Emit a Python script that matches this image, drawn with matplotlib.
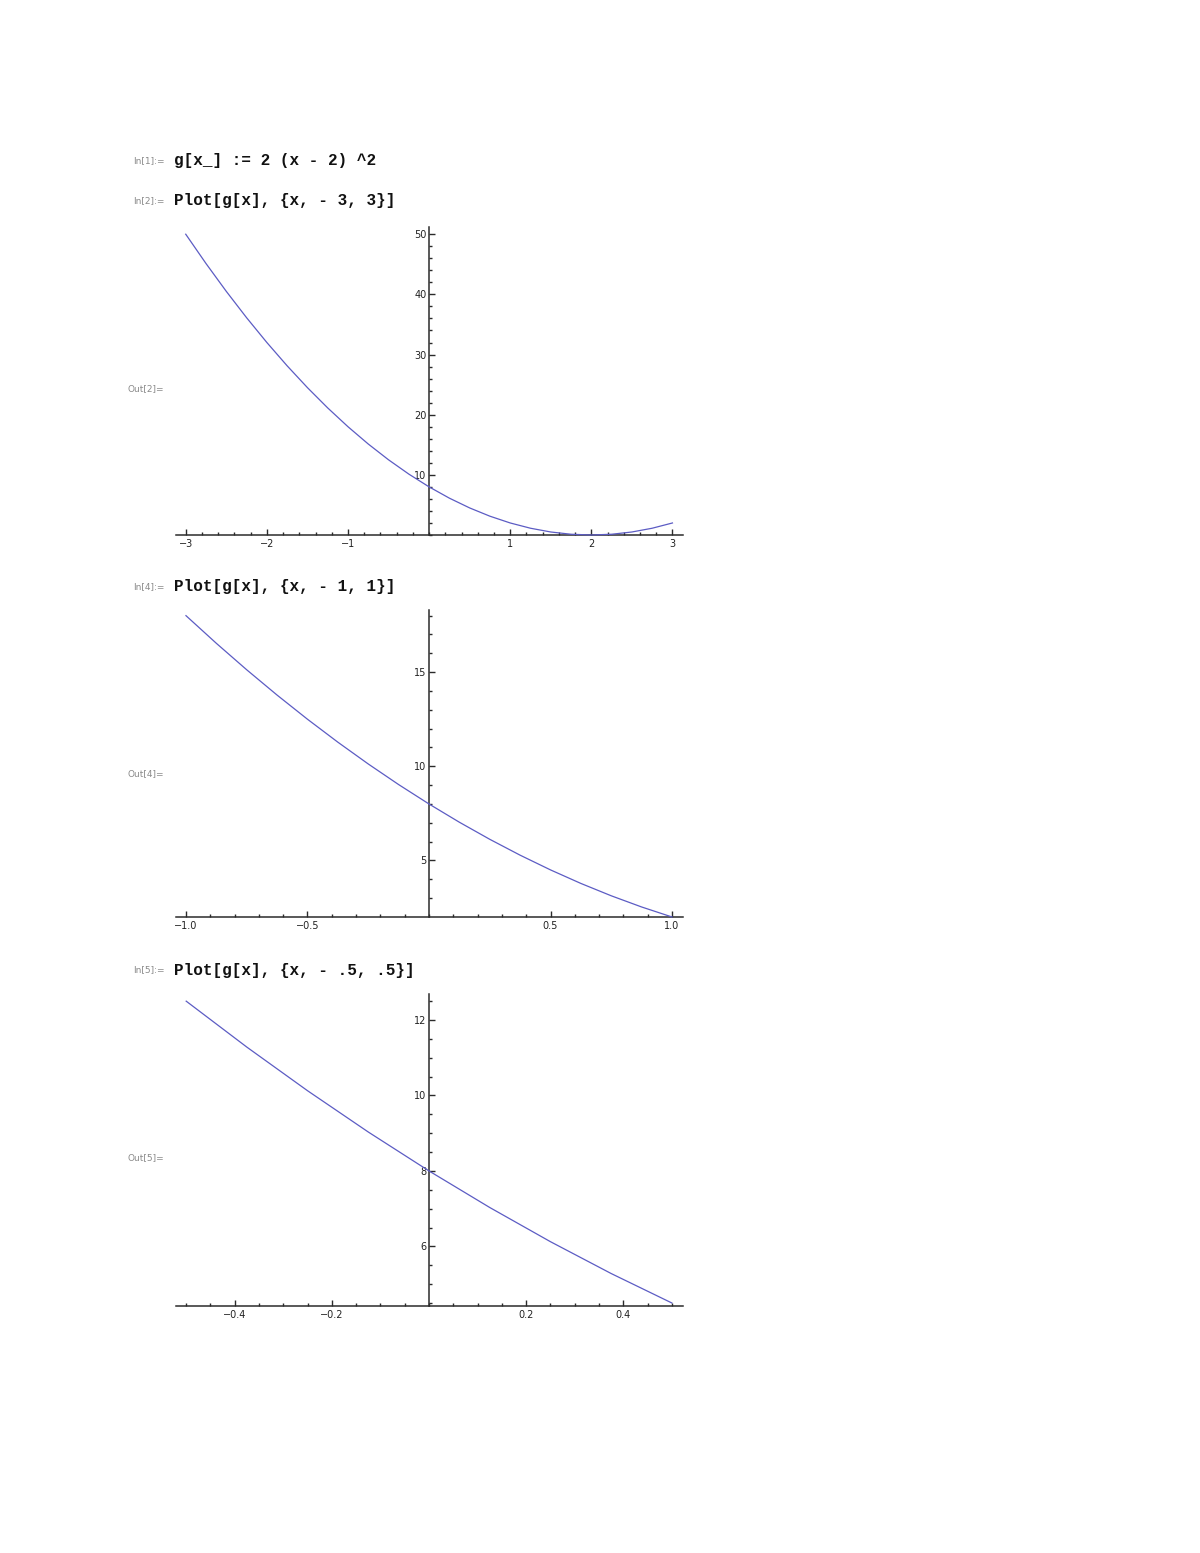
import matplotlib
matplotlib.use("Agg")
import matplotlib.pyplot as plt
from matplotlib.ticker import FixedLocator

# --- data: g(x) samples for the three Plot[] outputs ---
x1 = [-3, -2.75, -2.5, -2.25, -2, -1.75, -1.5, -1.25, -1, -0.75, -0.5, -0.25, 0,
      0.25, 0.5, 0.75, 1, 1.25, 1.5, 1.75, 2, 2.25, 2.5, 2.75, 3]
y1 = [50, 45.125, 40.5, 36.125, 32, 28.125, 24.5, 21.125, 18, 15.125, 12.5, 10.125, 8,
      6.125, 4.5, 3.125, 2, 1.125, 0.5, 0.125, 0, 0.125, 0.5, 1.125, 2]

x2 = [-1, -0.875, -0.75, -0.625, -0.5, -0.375, -0.25, -0.125, 0,
      0.125, 0.25, 0.375, 0.5, 0.625, 0.75, 0.875, 1]
y2 = [18, 16.53125, 15.125, 13.78125, 12.5, 11.28125, 10.125, 9.03125, 8,
      7.03125, 6.125, 5.28125, 4.5, 3.78125, 3.125, 2.53125, 2]

x3 = [-0.5, -0.375, -0.25, -0.125, 0, 0.125, 0.25, 0.375, 0.5]
y3 = [12.5, 11.28125, 10.125, 9.03125, 8, 7.03125, 6.125, 5.28125, 4.5]

# tick values and labels
xt1 = [-3, -2, -1, 1, 2, 3]
xt1_lab = ["\u22123", "\u22122", "\u22121", "1", "2", "3"]
yt1 = [10, 20, 30, 40, 50]
xt2 = [-1.0, -0.5, 0.5, 1.0]
xt2_lab = ["\u22121.0", "\u22120.5", "0.5", "1.0"]
yt2 = [5, 10, 15]
xt3 = [-0.4, -0.2, 0.2, 0.4]
xt3_lab = ["\u22120.4", "\u22120.2", "0.2", "0.4"]
yt3 = [6, 8, 10, 12]

W, H = 1200, 1553
LINE = "#5c5cc4"
AXC = "#2b2b2b"


def frange(a, b, step):
    n = int(round((b - a) / step))
    return [a + i * step for i in range(n + 1)]


def make_panel(fig, box, xs, ys, xlim, ylim, xt, xlab, xminor, yt, yminor):
    # box = (left, top, right, bottom) in pixels
    l, t, r, b = box
    ax = fig.add_axes([l / W, 1 - b / H, (r - l) / W, (b - t) / H])
    ax.plot(xs, ys, color=LINE, lw=0.9, clip_on=False, zorder=3)
    ax.set_xlim(*xlim)
    ax.set_ylim(*ylim)
    ax.patch.set_visible(False)
    for s in ["top", "right"]:
        ax.spines[s].set_visible(False)
    ax.spines["left"].set_position(("data", 0))
    ax.spines["bottom"].set_position(("data", ylim[0]))
    for s in ["left", "bottom"]:
        ax.spines[s].set_color(AXC)
        ax.spines[s].set_linewidth(1.1)
    ax.set_xticks(xt)
    ax.set_xticklabels(xlab)
    ax.set_yticks(yt)
    ax.set_yticklabels([str(v) for v in yt])
    ax.xaxis.set_minor_locator(FixedLocator(xminor))
    ax.yaxis.set_minor_locator(FixedLocator(yminor))
    ax.tick_params(which="major", direction="in", length=4.5, width=1.0,
                   color=AXC, labelsize=7, pad=3, labelcolor="#222222")
    ax.tick_params(which="minor", direction="in", length=2.3, width=1.0, color=AXC)
    ax.tick_params(axis="y", which="major", pad=2)
    return ax


fig = plt.figure(figsize=(W / 100, H / 100), dpi=100)
fig.patch.set_facecolor("white")

# panel 1 : x in [-3,3]
make_panel(fig, (176, 227, 683, 535), x1, y1, (-3.12, 3.13), (0, 51.2),
           xt1, xt1_lab, frange(-3, 3, 0.2), yt1, frange(0, 50, 2))
# panel 2 : x in [-1,1]
make_panel(fig, (176, 610, 683, 917), x2, y2, (-1.041, 1.045), (2.0, 18.3),
           xt2, xt2_lab, frange(-1, 1, 0.1), yt2, frange(3, 18, 1))
# panel 3 : x in [-.5,.5]
make_panel(fig, (176, 994, 683, 1306), x3, y3, (-0.521, 0.523), (4.42, 12.69),
           xt3, xt3_lab, frange(-0.5, 0.5, 0.05), yt3, frange(4.5, 12.5, 0.5))

# notebook cell labels
cells = [
    (161, "In[1]:=", "g[x_] := 2 (x - 2) ^2"),
    (201, "In[2]:=", "Plot[g[x], {x, - 3, 3}]"),
    (587, "In[4]:=", "Plot[g[x], {x, - 1, 1}]"),
    (970, "In[5]:=", "Plot[g[x], {x, - .5, .5}]"),
]
for py, tag, code in cells:
    fig.text(133 / W, 1 - py / H, tag, fontsize=6.5, color="#8a8a8a",
             ha="left", va="center")
    fig.text(174 / W, 1 - py / H, code, fontsize=11.5, family="Liberation Mono",
             weight="bold", color="#111111", ha="left", va="center")

for py, tag in [(389, "Out[2]="), (774, "Out[4]="), (1158, "Out[5]=")]:
    fig.text(127 / W, 1 - py / H, tag, fontsize=6.5, color="#8a8a8a",
             ha="left", va="center")

fig.savefig("out.png", dpi=100, facecolor="white")
